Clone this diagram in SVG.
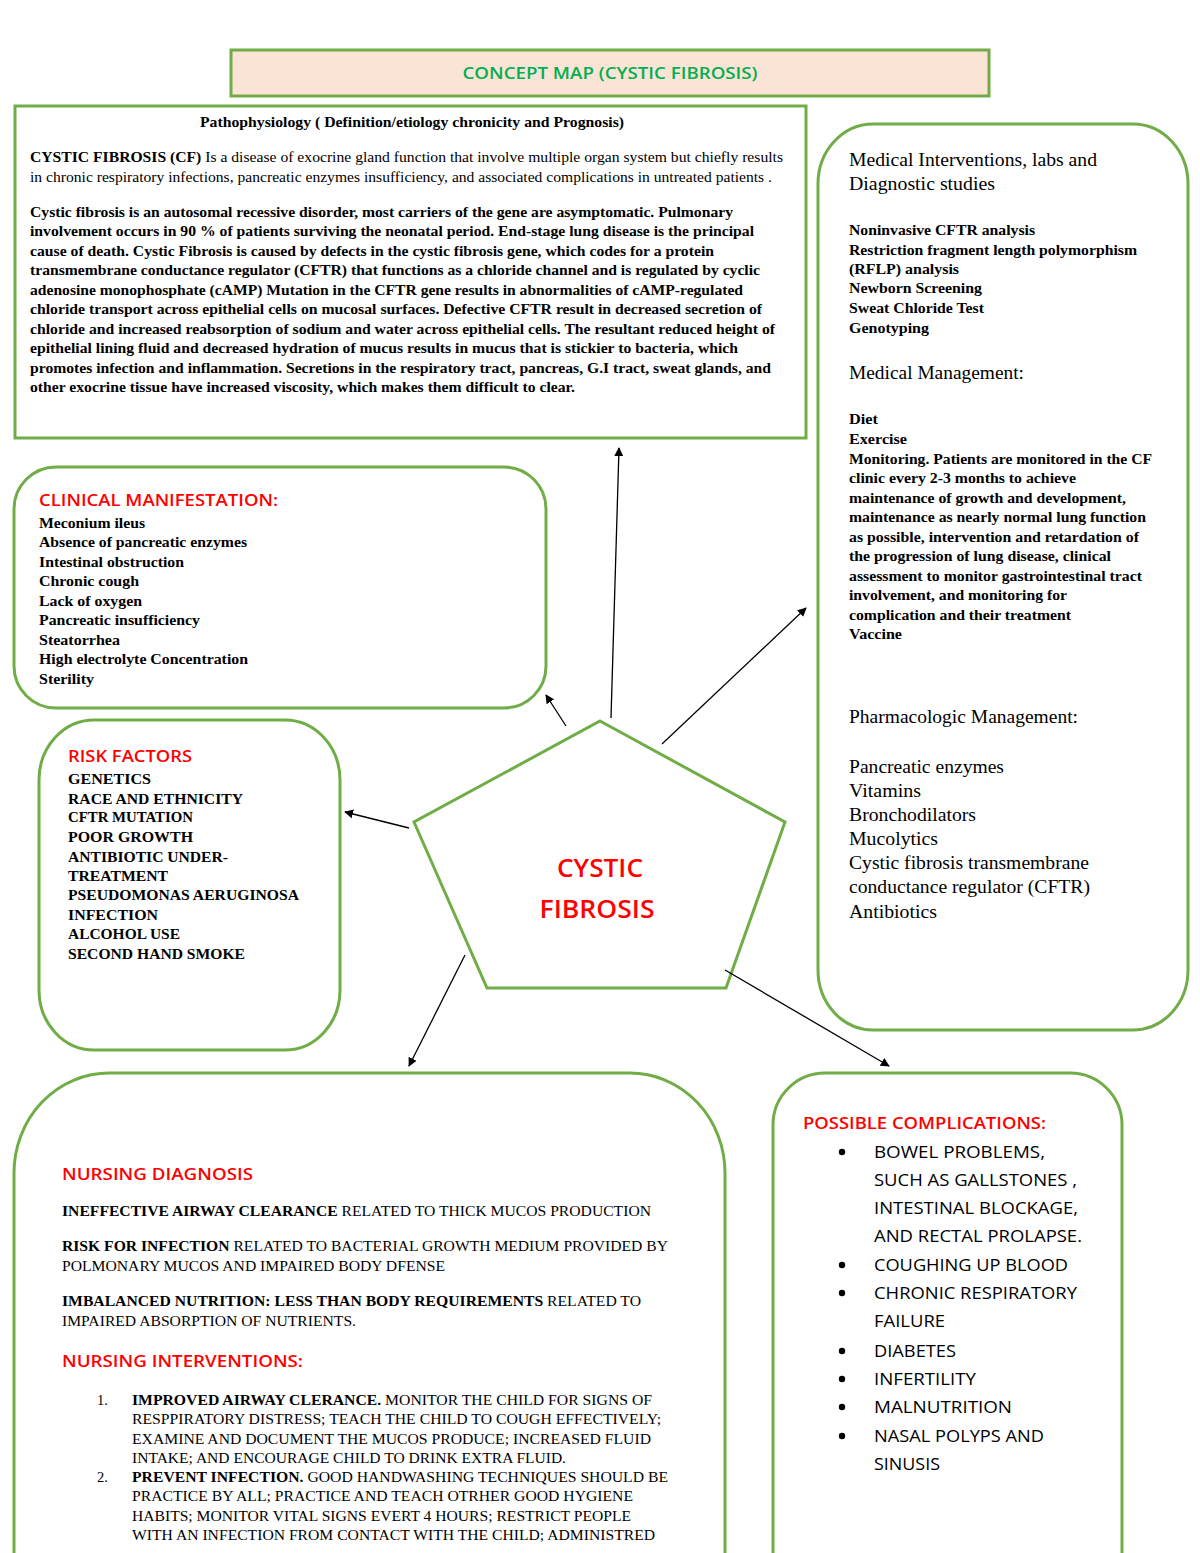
<svg xmlns="http://www.w3.org/2000/svg" width="1200" height="1553" viewBox="0 0 1200 1553">
<defs>
<marker id="ah" viewBox="0 0 10 10" refX="9" refY="5" markerWidth="9" markerHeight="9" markerUnits="userSpaceOnUse" orient="auto">
<path d="M0,0 L10,5 L0,10 z" fill="#000"/>
</marker>
<style>
.box{fill:#fff;stroke:#70AD47;stroke-width:3}
.b{font-family:"Liberation Serif",serif;font-weight:bold;fill:#000}
.r{font-family:"Liberation Serif",serif;fill:#000}
.p{font-size:14.5px}
.m{font-size:14px}
.big{font-size:18px}
.h{font-family:"Open Sans","Liberation Sans",sans-serif;font-weight:600;fill:#FF0000;font-size:16px}
.c{font-family:"Open Sans","Liberation Sans",sans-serif;fill:#000;font-size:16px}
.u{font-size:14.5px}
.conn{stroke:#000;stroke-width:1.3;fill:none;marker-end:url(#ah)}
</style>
</defs>
<rect width="1200" height="1553" fill="#fff"/>

<g id="title">
<rect x="231" y="50" width="758" height="46" fill="#FBE4D5" stroke="#70AD47" stroke-width="3"/>
<text x="610" y="79" text-anchor="middle" font-family="'Open Sans','Liberation Sans',sans-serif" font-weight="600" font-size="16" fill="#00B050" textLength="295" lengthAdjust="spacingAndGlyphs">CONCEPT MAP (CYSTIC FIBROSIS)</text>
</g>

<g id="pathophysiology">
<rect x="15" y="106" width="791" height="332" class="box"/>
<text x="412" y="127" text-anchor="middle" class="b m" textLength="424" lengthAdjust="spacingAndGlyphs">Pathophysiology ( Definition/etiology chronicity and Prognosis)</text>
<text x="30" y="162" class="r m" textLength="753" lengthAdjust="spacingAndGlyphs"><tspan class="b">CYSTIC FIBROSIS (CF)</tspan> Is  a disease of exocrine gland function that involve multiple organ system but chiefly results</text>
<text x="30" y="182" class="r m" textLength="742" lengthAdjust="spacingAndGlyphs">in chronic respiratory infections, pancreatic enzymes insufficiency, and associated complications in untreated patients .</text>
<text x="30" y="217" class="b p" textLength="703" lengthAdjust="spacingAndGlyphs">Cystic fibrosis is an autosomal recessive disorder, most carriers of the gene are asymptomatic. Pulmonary</text>
<text x="30" y="236" class="b p" textLength="724" lengthAdjust="spacingAndGlyphs">involvement occurs in 90 % of patients surviving the neonatal period. End-stage lung disease is the principal</text>
<text x="30" y="256" class="b p" textLength="684" lengthAdjust="spacingAndGlyphs">cause of death. Cystic Fibrosis is caused by defects in the cystic fibrosis gene, which codes for a protein</text>
<text x="30" y="275" class="b p" textLength="730" lengthAdjust="spacingAndGlyphs">transmembrane conductance regulator (CFTR) that functions as a chloride channel and is regulated by cyclic</text>
<text x="30" y="295" class="b p" textLength="713" lengthAdjust="spacingAndGlyphs">adenosine monophosphate (cAMP)   Mutation in the CFTR  gene results in abnormalities of cAMP-regulated</text>
<text x="30" y="314" class="b p" textLength="732" lengthAdjust="spacingAndGlyphs">chloride transport across epithelial cells on mucosal surfaces. Defective CFTR result in decreased secretion of</text>
<text x="30" y="334" class="b p" textLength="745" lengthAdjust="spacingAndGlyphs">chloride and increased reabsorption of sodium and water across epithelial cells. The resultant reduced height of</text>
<text x="30" y="353" class="b p" textLength="708" lengthAdjust="spacingAndGlyphs">epithelial lining fluid and decreased hydration of mucus results in mucus that is stickier to bacteria, which</text>
<text x="30" y="373" class="b p" textLength="741" lengthAdjust="spacingAndGlyphs">promotes infection and inflammation. Secretions in the respiratory tract, pancreas, G.I tract, sweat glands, and</text>
<text x="30" y="392" class="b p" textLength="545" lengthAdjust="spacingAndGlyphs">other exocrine tissue have increased viscosity, which makes them difficult to clear.</text>
</g>

<g id="medical-interventions">
<rect x="818" y="124" width="370" height="906" rx="55" ry="60" class="box"/>
<text x="849" y="166" class="r big" textLength="248" lengthAdjust="spacingAndGlyphs">Medical Interventions, labs and</text>
<text x="849" y="190" class="r big" textLength="146" lengthAdjust="spacingAndGlyphs">Diagnostic studies</text>
<text x="849" y="235" class="b m" textLength="186" lengthAdjust="spacingAndGlyphs">Noninvasive CFTR analysis</text>
<text x="849" y="255" class="b m" textLength="288" lengthAdjust="spacingAndGlyphs">Restriction fragment length polymorphism</text>
<text x="849" y="274" class="b m" textLength="110" lengthAdjust="spacingAndGlyphs">(RFLP) analysis</text>
<text x="849" y="293" class="b m" textLength="133" lengthAdjust="spacingAndGlyphs">Newborn Screening</text>
<text x="849" y="313" class="b m" textLength="135" lengthAdjust="spacingAndGlyphs">Sweat Chloride Test</text>
<text x="849" y="333" class="b m" textLength="80" lengthAdjust="spacingAndGlyphs">Genotyping</text>
<text x="849" y="379" class="r big" textLength="175" lengthAdjust="spacingAndGlyphs">Medical Management:</text>
<text x="849" y="424" class="b m" textLength="29" lengthAdjust="spacingAndGlyphs">Diet</text>
<text x="849" y="444" class="b m" textLength="58" lengthAdjust="spacingAndGlyphs">Exercise</text>
<text x="849" y="464" class="b m" textLength="303" lengthAdjust="spacingAndGlyphs">Monitoring. Patients are monitored in the CF</text>
<text x="849" y="483" class="b m" textLength="227" lengthAdjust="spacingAndGlyphs">clinic every 2-3 months to achieve</text>
<text x="849" y="503" class="b m" textLength="277" lengthAdjust="spacingAndGlyphs">maintenance of growth and development,</text>
<text x="849" y="522" class="b m" textLength="297" lengthAdjust="spacingAndGlyphs">maintenance as nearly normal lung function</text>
<text x="849" y="542" class="b m" textLength="290" lengthAdjust="spacingAndGlyphs">as possible, intervention and retardation of</text>
<text x="849" y="561" class="b m" textLength="262" lengthAdjust="spacingAndGlyphs">the progression of lung disease, clinical</text>
<text x="849" y="581" class="b m" textLength="293" lengthAdjust="spacingAndGlyphs">assessment to monitor gastrointestinal tract</text>
<text x="849" y="600" class="b m" textLength="218" lengthAdjust="spacingAndGlyphs">involvement, and monitoring for</text>
<text x="849" y="620" class="b m" textLength="222" lengthAdjust="spacingAndGlyphs">complication and their treatment</text>
<text x="849" y="639" class="b m" textLength="53" lengthAdjust="spacingAndGlyphs">Vaccine</text>
<text x="849" y="723" class="r big" textLength="229" lengthAdjust="spacingAndGlyphs">Pharmacologic Management:</text>
<text x="849" y="773" class="r big" textLength="155" lengthAdjust="spacingAndGlyphs">Pancreatic enzymes</text>
<text x="849" y="797" class="r big" textLength="72" lengthAdjust="spacingAndGlyphs">Vitamins</text>
<text x="849" y="821" class="r big" textLength="127" lengthAdjust="spacingAndGlyphs">Bronchodilators</text>
<text x="849" y="845" class="r big" textLength="89" lengthAdjust="spacingAndGlyphs">Mucolytics</text>
<text x="849" y="869" class="r big" textLength="240" lengthAdjust="spacingAndGlyphs">Cystic fibrosis transmembrane</text>
<text x="849" y="893" class="r big" textLength="241" lengthAdjust="spacingAndGlyphs">conductance regulator (CFTR)</text>
<text x="849" y="918" class="r big" textLength="88" lengthAdjust="spacingAndGlyphs">Antibiotics</text>
</g>

<g id="clinical-manifestation">
<rect x="14" y="467" width="532" height="241" rx="42" ry="42" class="box"/>
<text x="39" y="506" class="h" textLength="239" lengthAdjust="spacingAndGlyphs">CLINICAL MANIFESTATION:</text>
<text x="39" y="528" class="b m" textLength="106" lengthAdjust="spacingAndGlyphs">Meconium ileus</text>
<text x="39" y="547" class="b m" textLength="208" lengthAdjust="spacingAndGlyphs">Absence of pancreatic enzymes</text>
<text x="39" y="567" class="b m" textLength="145" lengthAdjust="spacingAndGlyphs">Intestinal obstruction</text>
<text x="39" y="586" class="b m" textLength="100" lengthAdjust="spacingAndGlyphs">Chronic cough</text>
<text x="39" y="606" class="b m" textLength="103" lengthAdjust="spacingAndGlyphs">Lack of oxygen</text>
<text x="39" y="625" class="b m" textLength="161" lengthAdjust="spacingAndGlyphs">Pancreatic insufficiency</text>
<text x="39" y="645" class="b m" textLength="81" lengthAdjust="spacingAndGlyphs">Steatorrhea</text>
<text x="39" y="664" class="b m" textLength="209" lengthAdjust="spacingAndGlyphs">High electrolyte Concentration</text>
<text x="39" y="684" class="b m" textLength="55" lengthAdjust="spacingAndGlyphs">Sterility</text>
</g>

<g id="risk-factors">
<rect x="39" y="720" width="301" height="330" rx="55" ry="60" class="box"/>
<text x="68" y="762" class="h" textLength="124" lengthAdjust="spacingAndGlyphs">RISK FACTORS</text>
<text x="68" y="784" class="b m" textLength="83" lengthAdjust="spacingAndGlyphs">GENETICS</text>
<text x="68" y="804" class="b m" textLength="175" lengthAdjust="spacingAndGlyphs">RACE AND ETHNICITY</text>
<text x="68" y="822" class="b m" textLength="125" lengthAdjust="spacingAndGlyphs">CFTR MUTATION</text>
<text x="68" y="842" class="b m" textLength="125" lengthAdjust="spacingAndGlyphs">POOR GROWTH</text>
<text x="68" y="862" class="b m" textLength="160" lengthAdjust="spacingAndGlyphs">ANTIBIOTIC UNDER-</text>
<text x="68" y="881" class="b m" textLength="100" lengthAdjust="spacingAndGlyphs">TREATMENT</text>
<text x="68" y="900" class="b m" textLength="231" lengthAdjust="spacingAndGlyphs">PSEUDOMONAS AERUGINOSA</text>
<text x="68" y="920" class="b m" textLength="90" lengthAdjust="spacingAndGlyphs">INFECTION</text>
<text x="68" y="939" class="b m" textLength="112" lengthAdjust="spacingAndGlyphs">ALCOHOL USE</text>
<text x="68" y="959" class="b m" textLength="177" lengthAdjust="spacingAndGlyphs">SECOND HAND SMOKE</text>
</g>

<g id="cystic-fibrosis">
<polygon points="600,721 785,822 726,988 487,988 414,822" class="box"/>
<text x="600" y="877" text-anchor="middle" font-family="'Open Sans','Liberation Sans',sans-serif" font-weight="600" font-size="26" fill="#FF0000" textLength="86" lengthAdjust="spacingAndGlyphs">CYSTIC</text>
<text x="597" y="918" text-anchor="middle" font-family="'Open Sans','Liberation Sans',sans-serif" font-weight="600" font-size="26" fill="#FF0000" textLength="115" lengthAdjust="spacingAndGlyphs">FIBROSIS</text>
</g>

<g id="connectors">
<line x1="611" y1="718" x2="619" y2="448" class="conn"/>
<line x1="566" y1="726" x2="546" y2="695" class="conn"/>
<line x1="662" y1="744" x2="806" y2="608" class="conn"/>
<line x1="409" y1="828" x2="345" y2="812" class="conn"/>
<line x1="465" y1="955" x2="409" y2="1066" class="conn"/>
<line x1="725" y1="970" x2="889" y2="1066" class="conn"/>
</g>

<g id="nursing">
<rect x="14" y="1073" width="711" height="620" rx="95" ry="100" class="box"/>
<text x="62" y="1180" class="h" textLength="191" lengthAdjust="spacingAndGlyphs">NURSING DIAGNOSIS</text>
<text x="62" y="1216" class="r u" textLength="589" lengthAdjust="spacingAndGlyphs"><tspan class="b">INEFFECTIVE AIRWAY CLEARANCE</tspan> RELATED TO THICK MUCOS PRODUCTION</text>
<text x="62" y="1251" class="r u" textLength="606" lengthAdjust="spacingAndGlyphs"><tspan class="b">RISK FOR INFECTION</tspan> RELATED TO BACTERIAL GROWTH MEDIUM PROVIDED BY</text>
<text x="62" y="1271" class="r u" textLength="383" lengthAdjust="spacingAndGlyphs">POLMONARY MUCOS AND IMPAIRED BODY DFENSE</text>
<text x="62" y="1306" class="r u" textLength="579" lengthAdjust="spacingAndGlyphs"><tspan class="b">IMBALANCED NUTRITION: LESS THAN BODY REQUIREMENTS</tspan> RELATED TO</text>
<text x="62" y="1326" class="r u" textLength="294" lengthAdjust="spacingAndGlyphs">IMPAIRED ABSORPTION OF NUTRIENTS.</text>
<text x="62" y="1367" class="h" textLength="241" lengthAdjust="spacingAndGlyphs">NURSING INTERVENTIONS:</text>
<text x="97" y="1405" class="r u">1.</text>
<text x="132" y="1405" class="r u" textLength="520" lengthAdjust="spacingAndGlyphs"><tspan class="b">IMPROVED AIRWAY CLERANCE.</tspan> MONITOR THE CHILD FOR SIGNS OF</text>
<text x="132" y="1424" class="r u" textLength="529" lengthAdjust="spacingAndGlyphs">RESPPIRATORY DISTRESS; TEACH THE CHILD TO COUGH EFFECTIVELY;</text>
<text x="132" y="1444" class="r u" textLength="519" lengthAdjust="spacingAndGlyphs">EXAMINE AND DOCUMENT THE MUCOS PRODUCE; INCREASED FLUID</text>
<text x="132" y="1463" class="r u" textLength="434" lengthAdjust="spacingAndGlyphs">INTAKE; AND ENCOURAGE CHILD TO DRINK EXTRA FLUID.</text>
<text x="97" y="1482" class="r u">2.</text>
<text x="132" y="1482" class="r u" textLength="536" lengthAdjust="spacingAndGlyphs"><tspan class="b">PREVENT INFECTION.</tspan> GOOD HANDWASHING TECHNIQUES SHOULD BE</text>
<text x="132" y="1501" class="r u" textLength="501" lengthAdjust="spacingAndGlyphs">PRACTICE BY ALL; PRACTICE AND TEACH OTRHER GOOD HYGIENE</text>
<text x="132" y="1521" class="r u" textLength="499" lengthAdjust="spacingAndGlyphs">HABITS; MONITOR VITAL SIGNS EVERT 4 HOURS; RESTRICT PEOPLE</text>
<text x="132" y="1540" class="r u" textLength="523" lengthAdjust="spacingAndGlyphs">WITH AN INFECTION FROM CONTACT WITH THE CHILD; ADMINISTRED</text>
</g>

<g id="complications">
<rect x="773" y="1073" width="349" height="620" rx="52" ry="52" class="box"/>
<text x="803" y="1129" class="h" textLength="243" lengthAdjust="spacingAndGlyphs">POSSIBLE COMPLICATIONS:</text>
<g fill="#000">
<circle cx="842" cy="1152" r="3.2"/>
<circle cx="842" cy="1265" r="3.2"/>
<circle cx="842" cy="1293" r="3.2"/>
<circle cx="842" cy="1351" r="3.2"/>
<circle cx="842" cy="1379" r="3.2"/>
<circle cx="842" cy="1407" r="3.2"/>
<circle cx="842" cy="1436" r="3.2"/>
</g>
<text x="874" y="1158" class="c" textLength="171" lengthAdjust="spacingAndGlyphs">BOWEL PROBLEMS,</text>
<text x="874" y="1186" class="c" textLength="203" lengthAdjust="spacingAndGlyphs">SUCH AS GALLSTONES ,</text>
<text x="874" y="1214" class="c" textLength="204" lengthAdjust="spacingAndGlyphs">INTESTINAL BLOCKAGE,</text>
<text x="874" y="1242" class="c" textLength="208" lengthAdjust="spacingAndGlyphs">AND RECTAL PROLAPSE.</text>
<text x="874" y="1271" class="c" textLength="194" lengthAdjust="spacingAndGlyphs">COUGHING UP BLOOD</text>
<text x="874" y="1299" class="c" textLength="203" lengthAdjust="spacingAndGlyphs">CHRONIC RESPIRATORY</text>
<text x="874" y="1327" class="c" textLength="71" lengthAdjust="spacingAndGlyphs">FAILURE</text>
<text x="874" y="1357" class="c" textLength="82" lengthAdjust="spacingAndGlyphs">DIABETES</text>
<text x="874" y="1385" class="c" textLength="102" lengthAdjust="spacingAndGlyphs">INFERTILITY</text>
<text x="874" y="1413" class="c" textLength="138" lengthAdjust="spacingAndGlyphs">MALNUTRITION</text>
<text x="874" y="1442" class="c" textLength="170" lengthAdjust="spacingAndGlyphs">NASAL POLYPS AND</text>
<text x="874" y="1470" class="c" textLength="66" lengthAdjust="spacingAndGlyphs">SINUSIS</text>
</g>
</svg>
